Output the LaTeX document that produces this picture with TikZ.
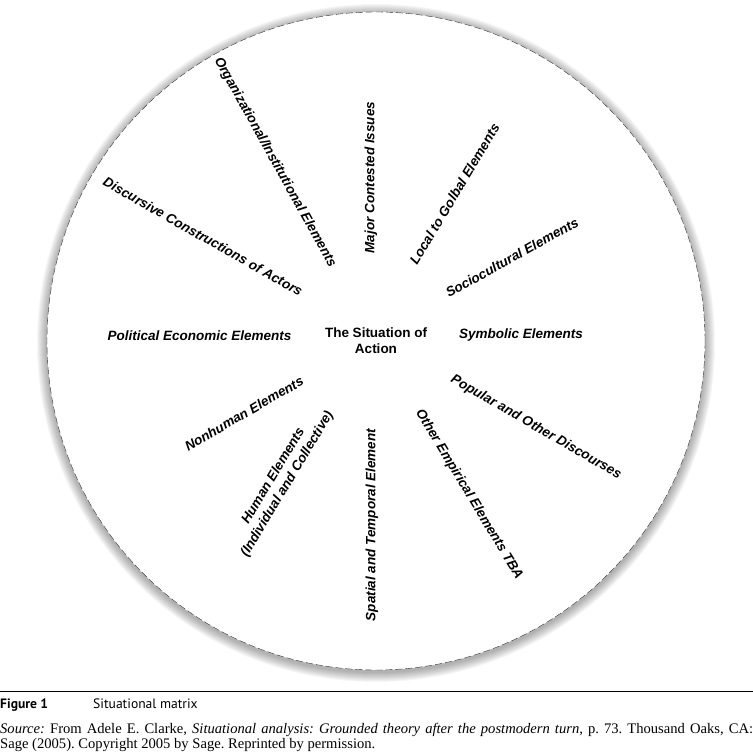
\documentclass[tikz,border=0pt]{standalone}
\usepackage{fontspec}
\setmainfont{Liberation Serif}
\setsansfont{Liberation Sans}
\newfontfamily\capfont{PT Sans}
\frenchspacing
\begin{document}
\begin{tikzpicture}[x=1pt,y=1pt,
    elem/.style={font=\sffamily\bfseries\itshape\fontsize{13.5}{16}\selectfont, inner sep=0pt, align=center},
    centre/.style={font=\sffamily\bfseries\fontsize{13.5}{16}\selectfont, inner sep=0pt, align=center},
    captext/.style={anchor=base west, inner sep=0pt, font=\capfont\fontsize{13.6}{15}\selectfont}]
\useasboundingbox (-376,-415) rectangle (377,341);
% soft shadow round the circle
\foreach \i in {1,...,10}{
    \fill[black, opacity=0.035, shift={(0,-2)}] (0,0) circle [radius=329pt+\i pt];
}
\fill[white] (0,0) circle [radius=329pt];
\draw[gray!40!black, dash pattern=on 7pt off 3pt] (0,0) circle [radius=329pt];
\node[centre] (sit) at (0,0) {The Situation of\\Action};
\foreach \x/\y/\r/\t [count=\n] in {
        -5/163.5/90/Major Contested Issues,
        78.5/147/59/Local to Golbal Elements,
        136/83.5/29/Sociocultural Elements,
        145/6/0/Symbolic Elements,
        160/-86.5/-30/Popular and Other Discourses,
        93/-153.5/-59/Other Empirical Elements TBA,
        -4/-184/90/Spatial and Temporal Element,
        -95.5/-139/59/{Human Elements\\(Individual and Collective)},
        -132/-72.5/30/Nonhuman Elements,
        -176.5/5/0/Political Economic Elements,
        -173/104.5/-29.5/Discursive Constructions of Actors,
        -101/178.5/-61/{Organizational/Institutional Elements}}{
    \node[elem, rotate=\r] (el\n) at (\x,\y) {\t};
}
% caption
\draw[line width=0.8pt] (-376,-350) -- (377,-350);
\node[captext, font=\capfont\bfseries\fontsize{13.6}{15}\selectfont] (fig) at (-376,-367) {Figure 1};
\node[captext] (cap) at (-283,-367) {Situational matrix};
\node[anchor=base west, inner sep=0pt, text width=753pt, align=justify, font=\fontsize{14.6}{15.5}\selectfont] (src) at (-376,-392)
    {\textit{Source:} From Adele E. Clarke, \textit{Situational analysis: Grounded theory after the postmodern turn}, p.~73. Thousand Oaks, CA:\linebreak Sage (2005). Copyright 2005 by Sage. Reprinted by permission.};
\end{tikzpicture}
\end{document}
